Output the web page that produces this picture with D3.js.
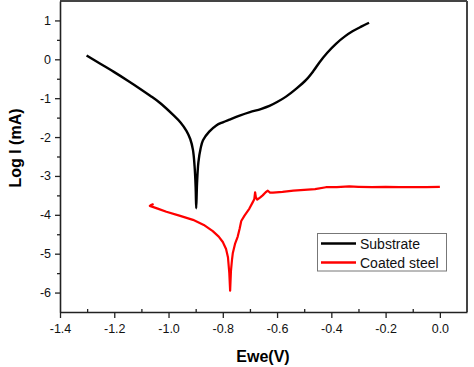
<!DOCTYPE html>
<html><head><meta charset="utf-8">
<script src="https://cdn.jsdelivr.net/npm/d3@7"></script>
<style>body{margin:0;background:#fff}svg{display:block}text{font-family:"Liberation Sans",Arial,sans-serif}</style>
</head><body>
<svg id="c" width="474" height="367"></svg>
<script>
const xTicks = [-1.4,-1.2,-1.0,-0.8,-0.6,-0.4,-0.2,0.0];
const yTicks = [1,0,-1,-2,-3,-4,-5,-6];
const seriesNames = ["Substrate","Coated steel"];
const seriesColors = ["#000000","#ff0000"];
// Substrate: [E (V), log I]
const substrate = [
  [-1.302,0.10],[-1.25,-0.12],[-1.20,-0.33],[-1.15,-0.55],[-1.10,-0.78],[-1.069,-0.93],
  [-1.03,-1.13],[-0.983,-1.43],[-0.955,-1.63],[-0.934,-1.84],[-0.92,-2.05],[-0.910,-2.33],
  [-0.904,-2.75],[-0.900,-3.30],[-0.898,-3.83],[-0.895,-3.20],[-0.890,-2.65],[-0.882,-2.30],
  [-0.873,-2.08],[-0.85,-1.86],[-0.824,-1.70],[-0.80,-1.62],[-0.775,-1.55],[-0.738,-1.45],
  [-0.70,-1.36],[-0.66,-1.28],[-0.628,-1.20],[-0.60,-1.10],[-0.567,-0.96],[-0.53,-0.76],
  [-0.493,-0.53],[-0.465,-0.29],[-0.444,-0.08],[-0.415,0.17],[-0.383,0.40],[-0.35,0.59],
  [-0.322,0.72],[-0.29,0.84],[-0.261,0.94]
];
// Coated steel: [E (V), log I]
const coated = [
  [-1.055,-3.72],[-1.065,-3.75],[-1.069,-3.77],[-1.04,-3.84],[-1.008,-3.92],[-0.96,-4.02],
  [-0.91,-4.13],[-0.87,-4.26],[-0.837,-4.42],[-0.815,-4.56],[-0.80,-4.70],[-0.788,-4.88],
  [-0.781,-5.09],[-0.776,-5.50],[-0.773,-5.95],[-0.770,-5.45],[-0.766,-5.15],[-0.763,-4.98],
  [-0.755,-4.75],[-0.745,-4.56],[-0.738,-4.36],[-0.732,-4.16],[-0.72,-4.02],[-0.702,-3.84],
  [-0.690,-3.68],[-0.684,-3.60],[-0.681,-3.42],[-0.678,-3.55],[-0.673,-3.61],[-0.663,-3.56],
  [-0.653,-3.50],[-0.642,-3.42],[-0.634,-3.38],[-0.626,-3.43],[-0.615,-3.43],[-0.58,-3.41],
  [-0.54,-3.38],[-0.50,-3.36],[-0.46,-3.34],[-0.42,-3.29],[-0.38,-3.29],[-0.334,-3.27],
  [-0.30,-3.28],[-0.25,-3.29],[-0.20,-3.28],[-0.15,-3.29],[-0.10,-3.29],[-0.05,-3.29],[0.0,-3.28]
];

const svg = d3.select("#c");
const L = 60, R = 467, T = 1, B = 312;
const x = d3.scaleLinear().domain([-1.4, 0.1]).range([L, R]);
const y = d3.scaleLinear().domain([-6.5, 1.5]).range([B, T]);

// frame top/right
svg.append("line").attr("x1",L).attr("x2",R).attr("y1",T).attr("y2",T).attr("stroke","#444").attr("stroke-width",2);
svg.append("line").attr("x1",R).attr("x2",R).attr("y1",T).attr("y2",B).attr("stroke","#444").attr("stroke-width",2);

// minor ticks
const xMinor = d3.range(-13,1).map(d=>d/10).filter(v=>!xTicks.some(t=>Math.abs(t-v)<1e-9));
const yMinor = [0.5,-0.5,-1.5,-2.5,-3.5,-4.5,-5.5];
const gxm = svg.append("g").attr("transform",`translate(0,${B})`)
  .call(d3.axisBottom(x).tickValues(xMinor).tickSize(-3).tickFormat(""));
gxm.select(".domain").remove();
const gym = svg.append("g").attr("transform",`translate(${L},0)`)
  .call(d3.axisLeft(y).tickValues(yMinor).tickSize(3).tickFormat(""));
gym.select(".domain").remove();

const gx = svg.append("g").attr("transform",`translate(0,${B})`)
  .call(d3.axisBottom(x).tickValues(xTicks).tickSize(6).tickSizeOuter(0).tickPadding(6).tickFormat(d3.format(".1f")));
const gy = svg.append("g").attr("transform",`translate(${L},0)`)
  .call(d3.axisLeft(y).tickValues(yTicks).tickSize(5).tickSizeOuter(0).tickPadding(4).tickFormat(d=>d3.format("d")(d).replace("−","-")));
gx.selectAll("text").text(d=>d3.format(".1f")(d).replace("−","-"));
[gx,gy,gxm,gym].forEach(g=>{
  g.selectAll("line").attr("stroke","#222").attr("stroke-width",1.3);
  g.selectAll(".domain").attr("stroke","#222").attr("stroke-width",1.6);
  g.selectAll("text").attr("fill","#111").style("font-size","12.5px");
});

const line = d3.line().x(d=>x(d[0])).y(d=>y(d[1])).curve(d3.curveMonotoneX);
const lineL = d3.line().x(d=>x(d[0])).y(d=>y(d[1]));
svg.append("path").datum(substrate).attr("d",lineL.curve(d3.curveCatmullRom.alpha(0.5)))
  .attr("fill","none").attr("stroke",seriesColors[0]).attr("stroke-width",2.4).attr("stroke-linejoin","round");
svg.append("path").datum(coated).attr("d",d3.line().x(d=>x(d[0])).y(d=>y(d[1]))(coated))
  .attr("fill","none").attr("stroke",seriesColors[1]).attr("stroke-width",2.2).attr("stroke-linejoin","round");

// axis labels
svg.append("text").attr("x",263).attr("y",362).attr("text-anchor","middle")
  .style("font-size","16px").style("font-weight","bold").text("Ewe(V)");
svg.append("text").attr("transform","translate(21,148) rotate(-90)").attr("text-anchor","middle")
  .style("font-size","16px").style("font-weight","bold").text("Log I (mA)");

// legend
const lg = svg.append("g");
lg.append("rect").attr("x",317.5).attr("y",233.5).attr("width",129).attr("height",37.5)
  .attr("fill","#fff").attr("stroke","#777").attr("stroke-width",1);
seriesNames.forEach((n,i)=>{
  const yy = 243.5 + i*19;
  lg.append("line").attr("x1",321).attr("x2",356).attr("y1",yy).attr("y2",yy)
    .attr("stroke",seriesColors[i]).attr("stroke-width",2.4);
  lg.append("text").attr("x",360).attr("y",yy+5).style("font-size","14px").attr("fill","#111").text(n);
});
</script>
</body></html>
